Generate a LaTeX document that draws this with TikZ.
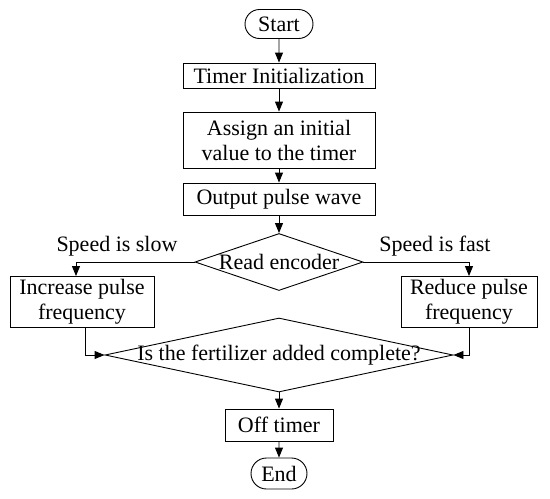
\documentclass[tikz,border=0pt]{standalone}
\usepackage{fontspec}
\setmainfont{Liberation Serif}
\usetikzlibrary{shapes.geometric,shapes.misc,arrows.meta}
\begin{document}
\begin{tikzpicture}[x=1pt,y=-1pt,
  font=\fontsize{22}{25}\selectfont,
  every path/.style={line width=0.9pt},
  box/.style={draw, rectangle, inner sep=0pt, align=center},
  term/.style={draw, rounded rectangle, inner sep=0pt},
  dia/.style={draw, diamond, inner sep=0pt},
  arr/.style={-{Triangle[length=10pt,width=8pt]}}]
\useasboundingbox (0,0) rectangle (550,499);
\node[term, minimum width=68pt, minimum height=29pt] (start) at (279,24) {Start};
\node[box, minimum width=192pt, minimum height=25pt] (init) at (279,75.5) {Timer Initialization};
\node[box, minimum width=192pt, minimum height=56pt] (assign) at (279,140) {Assign an initial\\value to the timer};
\node[box, minimum width=192pt, minimum height=32pt] (out) at (279,199) {Output pulse wave};
\node[dia, minimum width=168pt, minimum height=57pt, label={center:Read encoder}] (read) at (279,262) {};
\node[box, minimum width=144pt, minimum height=51pt] (inc) at (82,302) {Increase pulse\\frequency};
\node[box, minimum width=136pt, minimum height=51pt] (red) at (469,302) {Reduce pulse\\frequency};
\node[dia, minimum width=348pt, minimum height=74pt, label={center:Is the fertilizer added complete?}] (chk) at (279,355) {};
\node[box, minimum width=108pt, minimum height=32pt] (off) at (279,425) {Off timer};
\node[term, minimum width=56pt, minimum height=31pt] (end) at (279,473.5) {End};
\node (slow) at (117,246) {Speed is slow};
\node (fast) at (435,246) {Speed is fast};
\draw[arr] (start) -- (init);
\draw[arr] (init) -- (assign);
\draw[arr] (assign) -- (out);
\draw[arr] (out) -- (read);
\draw[arr] (read.west) -| ([xshift=-6pt]inc.north);
\draw[arr] (read.east) -| (red.north);
\draw[arr] ([xshift=3pt]inc.south) |- (chk.west);
\draw[arr] (red.south) |- (chk.east);
\draw[arr] (chk) -- (off);
\draw[arr] (off) -- (end);
\end{tikzpicture}
\end{document}
